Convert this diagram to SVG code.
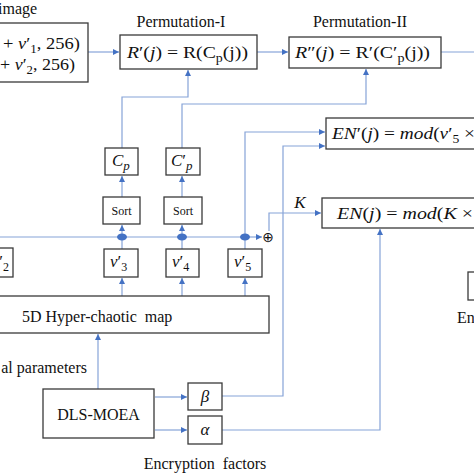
<svg xmlns="http://www.w3.org/2000/svg" width="474" height="474" viewBox="0 0 474 474">
<defs>
<marker id="ah" markerUnits="userSpaceOnUse" markerWidth="7" markerHeight="7" refX="6" refY="3" orient="auto">
<path d="M0,0 L6,3 L0,6 z" fill="#4472C4"/>
</marker>
<style>
.box{fill:#fff;stroke:#3a3a3a;stroke-width:1.3}
.ln{fill:none;stroke:#86A3D8;stroke-width:1.2}
.arr{marker-end:url(#ah)}
.dot{fill:#4472C4}
.t{font-family:"Liberation Serif","Times New Roman",serif;font-size:16px;fill:#111}
.s{font-family:"Liberation Serif","Times New Roman",serif;font-size:12px;fill:#111}
.m{font-family:"Liberation Serif","DejaVu Serif",serif;font-size:17px;fill:#111}
.i{font-style:italic}
</style>
</defs>
<rect width="474" height="474" fill="#fff"/>

<g id="connectors">
<line class="ln arr" x1="88" y1="52" x2="119" y2="52"/>
<line class="ln arr" x1="257" y1="52" x2="288" y2="52"/>
<line class="ln" x1="441" y1="52" x2="474" y2="52"/>
<polyline class="ln arr" points="122,148 122,97 188,97 188,70"/>
<polyline class="ln arr" points="182,148 182,104 366,104 366,69"/>
<line class="ln arr" x1="122" y1="197" x2="122" y2="176"/>
<line class="ln arr" x1="182" y1="197" x2="182" y2="176"/>
<line class="ln arr" x1="122" y1="234" x2="122" y2="225"/>
<line class="ln arr" x1="182" y1="234" x2="182" y2="225"/>
<line class="ln" x1="0" y1="237" x2="245" y2="237"/>
<line class="ln arr" x1="245" y1="237" x2="262" y2="237"/>
<line class="ln" x1="122" y1="237" x2="122" y2="249"/>
<line class="ln" x1="182" y1="237" x2="182" y2="249"/>
<line class="ln" x1="245" y1="237" x2="245" y2="249"/>
<line class="ln arr" x1="122" y1="296" x2="122" y2="278"/>
<line class="ln arr" x1="182" y1="296" x2="182" y2="278"/>
<line class="ln arr" x1="245" y1="296" x2="245" y2="278"/>
<polyline class="ln arr" points="245,237 245,132 325,132"/>
<polyline class="ln arr" points="269,231 269,213 321,213"/>
<polyline class="ln arr" points="222,396 283,396 283,146 325,146"/>
<polyline class="ln arr" points="222,430 380,430 380,229"/>
<line class="ln arr" x1="98" y1="389" x2="98" y2="334"/>
<line class="ln arr" x1="155" y1="397" x2="187" y2="397"/>
<line class="ln arr" x1="155" y1="430" x2="187" y2="430"/>
<ellipse class="dot" cx="122" cy="237" rx="5" ry="3.5"/>
<ellipse class="dot" cx="182" cy="237" rx="5" ry="3.5"/>
<ellipse class="dot" cx="245" cy="237" rx="5" ry="3.5"/>
</g>

<text class="t" x="-2" y="14">image</text>
<g id="node-mod">
<rect class="box" x="-10" y="23" width="98" height="59"/>
<text class="m" x="3" y="49" font-size="18" textLength="77" lengthAdjust="spacingAndGlyphs">+ <tspan class="i">v</tspan>′<tspan font-size="12" dy="4">1</tspan><tspan dy="-4">, 256)</tspan></text>
<text class="m" x="0" y="70" font-size="18" textLength="75" lengthAdjust="spacingAndGlyphs">+ <tspan class="i">v</tspan>′<tspan font-size="12" dy="4">2</tspan><tspan dy="-4">, 256)</tspan></text>
</g>

<g id="node-perm1">
<text class="t" x="181" y="27" text-anchor="middle">Permutation-I</text>
<rect class="box" x="120" y="35" width="137" height="34"/>
<text class="m" x="127" y="58" textLength="121" lengthAdjust="spacingAndGlyphs"><tspan class="i">R</tspan>′(<tspan class="i">j</tspan>) = R(C<tspan font-size="12" dy="4">p</tspan><tspan dy="-4">(j))</tspan></text>
</g>

<g id="node-perm2">
<text class="t" x="360" y="27" text-anchor="middle">Permutation-II</text>
<rect class="box" x="289" y="37" width="152" height="31"/>
<text class="m" x="295" y="58" textLength="135" lengthAdjust="spacingAndGlyphs"><tspan class="i">R</tspan>″(<tspan class="i">j</tspan>) = R′(C′<tspan font-size="12" dy="4">p</tspan><tspan dy="-4">(j))</tspan></text>
</g>

<g id="node-cp">
<rect class="box" x="105" y="148" width="33" height="27"/>
<text class="m" x="112" y="166"><tspan class="i">C</tspan><tspan class="i" font-size="13" dy="4">p</tspan></text>
</g>
<g id="node-cpp">
<rect class="box" x="166" y="148" width="34" height="27"/>
<text class="m" x="171" y="166"><tspan class="i">C</tspan>′<tspan class="i" font-size="13" dy="4">p</tspan></text>
</g>

<g id="node-sort1">
<rect class="box" x="103" y="197" width="37" height="27"/>
<text class="s" x="121.5" y="215" text-anchor="middle">Sort</text>
</g>
<g id="node-sort2">
<rect class="box" x="164" y="197" width="38" height="27"/>
<text class="s" x="183" y="215" text-anchor="middle">Sort</text>
</g>

<g id="node-v2">
<rect class="box" x="-30" y="248" width="43" height="29"/>
<text class="m" x="9" y="267" text-anchor="end"><tspan class="i">v</tspan>′<tspan font-size="12" dy="4">2</tspan></text>
</g>
<g id="node-v3">
<rect class="box" x="104" y="249" width="34" height="28"/>
<text class="m" x="110" y="267"><tspan class="i">v</tspan>′<tspan font-size="12" dy="4">3</tspan></text>
</g>
<g id="node-v4">
<rect class="box" x="166" y="249" width="33" height="28"/>
<text class="m" x="172" y="267"><tspan class="i">v</tspan>′<tspan font-size="12" dy="4">4</tspan></text>
</g>
<g id="node-v5">
<rect class="box" x="228" y="249" width="34" height="28"/>
<text class="m" x="234" y="267"><tspan class="i">v</tspan>′<tspan font-size="12" dy="4">5</tspan></text>
</g>

<g id="node-xor">
<text x="268" y="242" text-anchor="middle" font-family="DejaVu Sans, sans-serif" font-size="14" fill="#111">⊕</text>
</g>
<text class="m i" x="300" y="208" text-anchor="middle">K</text>

<g id="node-enp">
<rect class="box" x="326" y="118" width="160" height="31"/>
<text class="m" x="332" y="139" textLength="143" lengthAdjust="spacingAndGlyphs"><tspan class="i">EN</tspan>′(<tspan class="i">j</tspan>) = <tspan class="i">mod</tspan>(<tspan class="i">v</tspan>′<tspan font-size="12" dy="4">5</tspan><tspan dy="-4"> ×</tspan></text>
</g>
<g id="node-en">
<rect class="box" x="322" y="198" width="164" height="30"/>
<text class="m" x="337" y="219" textLength="136" lengthAdjust="spacingAndGlyphs"><tspan class="i">EN</tspan>(<tspan class="i">j</tspan>) = <tspan class="i">mod</tspan>(<tspan class="i">K</tspan> ×</text>
</g>

<g id="node-right">
<rect class="box" x="468" y="272" width="20" height="28"/>
<text class="t" x="457" y="323">En</text>
</g>

<g id="node-map">
<rect class="box" x="-10" y="296" width="279" height="37"/>
<text class="t" x="22" y="322" xml:space="preserve">5D Hyper-chaotic  map</text>
</g>
<text class="t" x="87" y="373" text-anchor="end">al parameters</text>

<g id="node-dls">
<rect class="box" x="43" y="389" width="111" height="49"/>
<text class="t" x="98.5" y="420" text-anchor="middle">DLS-MOEA</text>
</g>
<g id="node-beta">
<rect class="box" x="188" y="383" width="34" height="27"/>
<text class="m i" x="205" y="402" text-anchor="middle">β</text>
</g>
<g id="node-alpha">
<rect class="box" x="188" y="416" width="34" height="28"/>
<text class="m i" x="205" y="435" text-anchor="middle">α</text>
</g>
<text class="t" x="205" y="469" text-anchor="middle" xml:space="preserve">Encryption  factors</text>
</svg>
